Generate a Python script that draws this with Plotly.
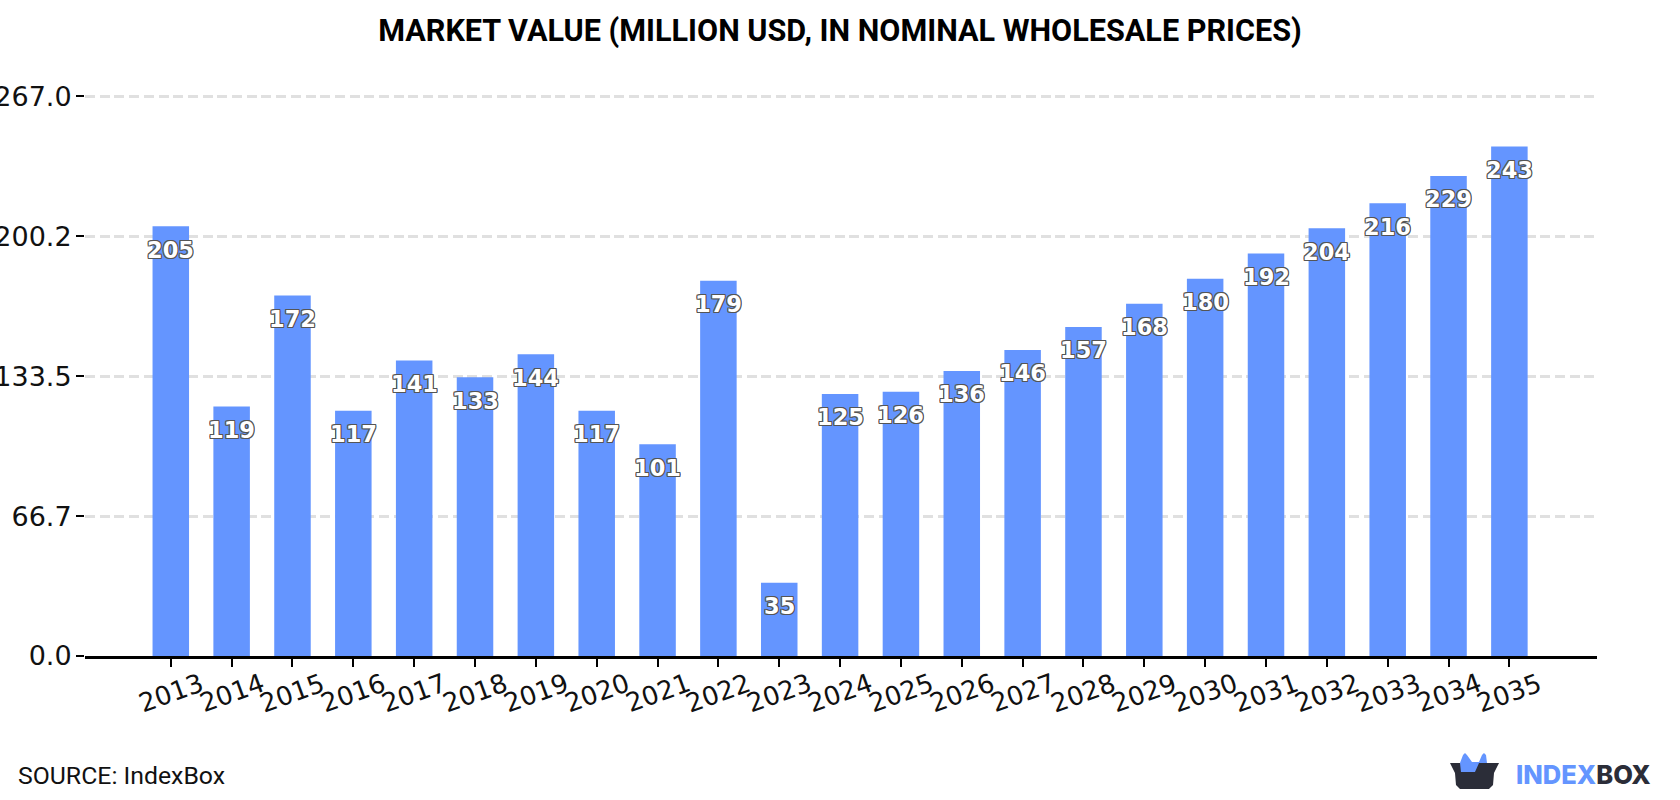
import plotly.graph_objects as go

years = list(range(2013, 2036))
values = [205, 119, 172, 117, 141, 133, 144, 117, 101, 179, 35, 125, 126, 136,
          146, 157, 168, 180, 192, 204, 216, 229, 243]
y_ticks = [0.0, 66.7, 133.5, 200.2, 267.0]
y_tick_labels = ["0.0", "66.7", "133.5", "200.2", "267.0"]

BAR = "#6495ff"
DARK = "#2b2d38"
W, H = 1680, 800
L, R, B = 85, 1597, 656
Y_TOP = 270
T = B - Y_TOP * (559.3 / 267)
OUTLINE = ("-1px -1px 0 #555, 1px -1px 0 #555, -1px 1px 0 #555, 1px 1px 0 #555, "
           "-1px 0 0 #555, 1px 0 0 #555, 0 -1px 0 #555, 0 1px 0 #555")


def paper_x(x):
    return (x - L) / (R - L)


def paper_y(y):
    return (B - y) / (B - T)


fig = go.Figure()
fig.add_trace(go.Bar(x=years, y=values, width=0.6, marker=dict(color=BAR, line_width=0),
                     hoverinfo="x+y"))

# value labels sit a fixed distance below the top of each bar
annotations = [
    dict(x=yr, y=v, xref="x", yref="y", text=str(v), showarrow=False, yshift=-23.5,
         font=dict(family="DejaVu Sans", size=22.5, color="white", weight="bold", shadow=OUTLINE))
    for yr, v in zip(years, values)
]
# slanted year labels are centred under their ticks
annotations += [
    dict(x=yr, y=0, xref="x", yref="paper", text=str(yr), showarrow=False, yshift=-37,
         textangle=-20, xanchor="center", yanchor="middle",
         font=dict(family="DejaVu Sans", size=26, color="#111111"))
    for yr in years
]
annotations.append(dict(
    x=paper_x(16), y=paper_y(775), xref="paper", yref="paper", xanchor="left", yanchor="middle",
    text="SOURCE: IndexBox", showarrow=False,
    font=dict(family="Roboto", size=24.8, color="#111111")))
annotations.append(dict(
    x=paper_x(1514), y=paper_y(774), xref="paper", yref="paper", xanchor="left", yanchor="middle",
    text=f"<span style='color:{BAR}'>INDEX</span><span style='color:{DARK}'>BOX</span>",
    showarrow=False, font=dict(family="Inter", size=25.5, weight=800)))


def logo_path(points):
    return "M " + " L ".join(f"{paper_x(x):.5f} {paper_y(y):.5f}" for x, y in points) + " Z"


# brand mark: blue lid flaps above a dark box, placed in page pixels
flaps = [(1460, 763), (1463, 755), (1465, 753), (1467, 755), (1472, 762), (1479, 762),
         (1482, 755), (1484, 753), (1486, 755), (1487, 763), (1479, 763), (1475, 772),
         (1461, 772)]
box = [(1450, 763), (1499, 763), (1494, 773), (1493, 785), (1489, 789), (1460, 789),
       (1456, 785), (1455, 773)]

shapes = [
    dict(type="path", xref="paper", yref="paper", path=logo_path(box),
         fillcolor=DARK, line_width=0, layer="above"),
    dict(type="path", xref="paper", yref="paper", path=logo_path(flaps),
         fillcolor=BAR, line_width=0, layer="above"),
]

fig.update_layout(
    width=W, height=H, autosize=False,
    margin=dict(l=L, r=W - R, t=T, b=H - B, pad=0),
    paper_bgcolor="white", plot_bgcolor="white", showlegend=False,
    title=dict(text="<b>MARKET VALUE (MILLION USD, IN NOMINAL WHOLESALE PRICES)</b>",
               x=0.5, xanchor="center", y=1 - 30 / H, yanchor="middle",
               font=dict(family="Roboto", size=30.6, color="#000000")),
    annotations=annotations, shapes=shapes,
)
fig.update_xaxes(
    range=[years[0] - 1.41, years[-1] + 1.44], tickmode="array", tickvals=years,
    showticklabels=False, showgrid=False, showline=True, linecolor="black", linewidth=3,
    ticks="outside", ticklen=8, tickwidth=2, tickcolor="black", zeroline=False,
)
fig.update_yaxes(
    range=[0, Y_TOP], tickmode="array", tickvals=y_ticks, ticktext=y_tick_labels,
    showgrid=True, gridcolor="#e0e0e0", gridwidth=2.5, griddash="10px,4.7px",
    showline=False, zeroline=False, ticklabelstandoff=-1,
    ticks="outside", ticklen=8, tickwidth=2, tickcolor="black",
    tickfont=dict(family="DejaVu Sans", size=27, color="#111111"), automargin=False,
)
fig.write_html("out.html")
